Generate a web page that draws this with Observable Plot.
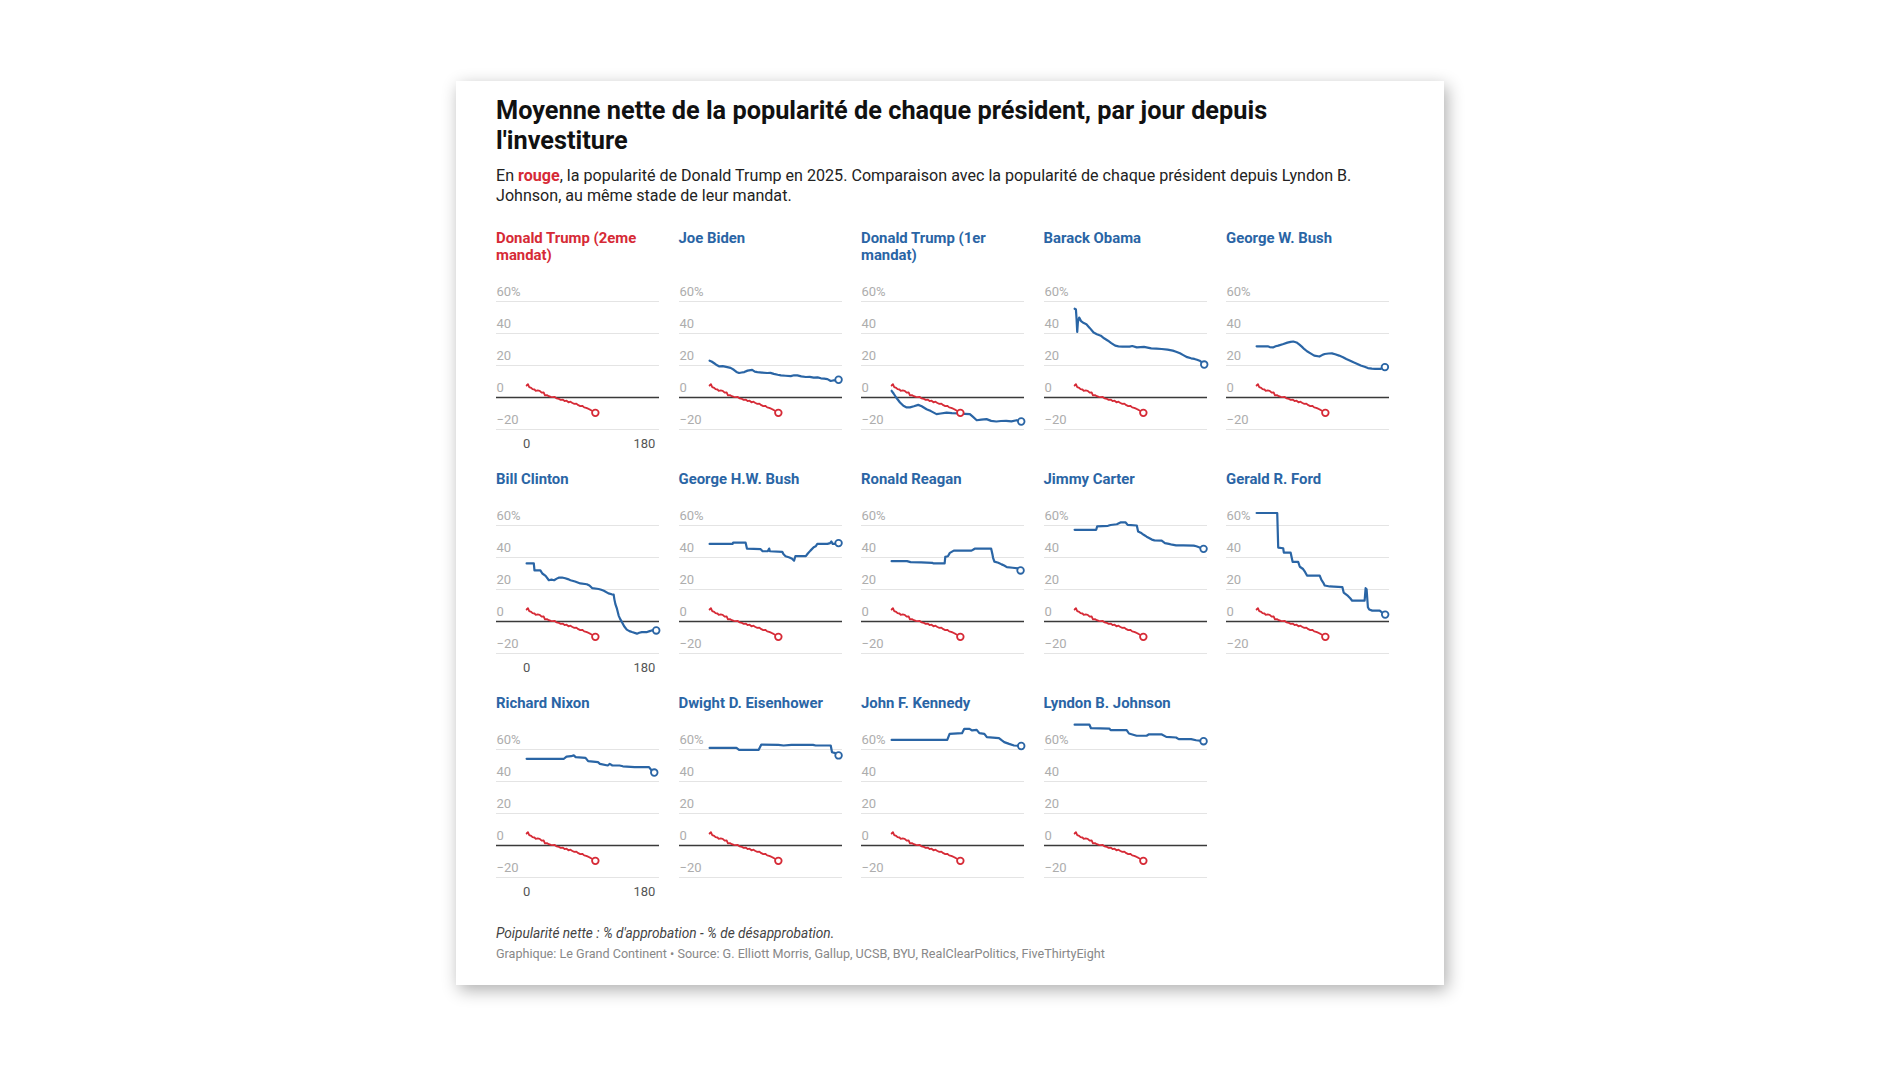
<!DOCTYPE html>
<html lang="fr">
<head>
<meta charset="utf-8">
<script src="https://cdn.jsdelivr.net/npm/d3@7"></script>
<script src="https://cdn.jsdelivr.net/npm/@observablehq/plot@0.6"></script>
<style>
  html, body { margin: 0; padding: 0; background: #fff; }
  body { width: 1896px; height: 1066px; position: relative; font-family: Roboto, "Noto Sans", sans-serif; }
  .card {
    position: absolute; left: 456px; top: 81px; width: 988px; height: 904px;
    background: #fff; box-sizing: border-box; padding: 15px 40px 0 40px;
    box-shadow: 3px 5px 16px rgba(0,0,0,0.32);
  }
  h1 { margin: 0; font-size: 25.3px; line-height: 30px; font-weight: 700; color: #111; width: 850px; }
  .sub { margin-top: 10px; font-size: 16.1px; line-height: 19.5px; color: #222; width: 893px; }
  .sub .red { color: #d62a36; font-weight: 700; }
  .grid { margin-top: 25px; display: grid; grid-template-columns: repeat(5, 163px); column-gap: 19.5px; }
  .ptitle { font-size: 14.9px; line-height: 17px; font-weight: 700; color: #2a65a5; padding-bottom: 5px; }
  .ptitle.hl { color: #d62a36; }
  .pchart { padding-bottom: 18px; }
  .pchart.last { padding-bottom: 0; }
  .pchart svg { display: block; overflow: visible; }
  .note { margin-top: 24px; font-size: 13.7px; line-height: 16px; font-style: italic; color: #444; }
  .source { margin-top: 5px; font-size: 12.6px; line-height: 16px; color: #888; }
</style>
</head>
<body>
<div class="card">
  <h1>Moyenne nette de la popularité de chaque président, par jour depuis l'investiture</h1>
  <div class="sub">En <span class="red">rouge</span>, la popularité de Donald Trump en 2025. Comparaison avec la popularité de chaque président depuis Lyndon B. Johnson, au même stade de leur mandat.</div>
  <div class="grid" id="grid"></div>
  <div class="note">Poipularité nette : % d'approbation - % de désapprobation.</div>
  <div class="source">Graphique: Le Grand Continent • Source: G. Elliott Morris, Gallup, UCSB, BYU, RealClearPolitics, FiveThirtyEight</div>
</div>
<script>
// Net approval (approve − disapprove), [day since inauguration, value]
const trump2 = [[0,7.5],[2,8.3],[4,6.5],[7,6],[9,5.2],[12,5],[14,4.2],[17,4.4],[20,4.2],[23,3],[26,3.2],[28,1.3],[31,1.5],[34,0.8],[37,0.4],[40,0.2],[43,0.3],[46,-0.6],[49,-0.8],[52,-1.5],[55,-1.3],[58,-2.2],[61,-2],[64,-3],[67,-2.6],[70,-3.4],[73,-4],[76,-3.8],[79,-4.8],[82,-5.4],[85,-5.2],[88,-6.2],[91,-6.5],[94,-7],[97,-7.6],[100,-8.3],[103,-9],[105,-9.6]];
const biden = [[0,23],[3,22.5],[7,21.4],[10,20.5],[15,19.4],[20,19.6],[27,19],[32,18.5],[37,17.3],[41,16],[45,15.3],[49,15.6],[53,15.9],[58,16.8],[65,17.3],[69,16.2],[73,15.9],[80,15.6],[88,15.3],[93,15.4],[98,14.8],[104,14.2],[109,13.8],[116,13.6],[124,13.4],[129,13.9],[134,13.8],[140,13.2],[147,12.8],[153,12.9],[159,12.4],[165,12.6],[170,12],[175,11.8],[180,11.5],[185,10.3],[190,10.8],[194,10.4],[197,11.1]];
const trump1 = [[0,4.2],[3,2.5],[7,0],[12.8,-3.1],[18,-5.2],[23,-6.2],[28,-6.2],[34,-5.5],[40.7,-4.6],[46,-5.5],[53.4,-7.3],[60,-8.5],[68.6,-10.4],[75,-10],[84,-9.4],[92,-9.8],[104,-10],[112,-10.2],[119.5,-10.4],[124,-12],[130,-14.2],[137,-13.8],[145,-13.5],[152,-14.6],[160,-15],[167,-14.7],[175,-14.6],[183,-14.9],[191,-14.2],[198,-15]];
const obama = [[0,55.5],[2,55],[3,49],[4,41],[5,47],[7,50],[9.8,47.8],[14,46.5],[18,45.8],[23,43.5],[29,40.6],[34,39.5],[40,38.6],[45,37],[51,35.5],[56,34],[62,32.4],[67,32],[73,31.8],[84,31.8],[88,32.2],[95,31.3],[106,31.6],[117,30.7],[125,30.5],[133,30.3],[142,29.9],[150,29.3],[155,28.6],[161,27.6],[166,26.5],[172,25.2],[178,24.5],[183,24.1],[187,23.6],[191,23],[195,21.8],[198,20.6]];
const bushW = [[0,32],[17,32],[20,31.5],[25,31.3],[29,32],[33,32.4],[41,33.4],[47,34.3],[52,34.8],[56,35],[61,34.4],[65,33.2],[69,31.8],[73,30.2],[77,28.9],[83,27.4],[88,26.2],[96,25.6],[100,26.5],[104,27.2],[110,27.5],[115,27.6],[120,27],[126,26.2],[132,25.2],[137,24.1],[143,23],[148,22],[154,21],[159,20],[165,19.2],[170,18.4],[176,18],[181,17.9],[189,17.9],[193,18.4],[196,19]];
const clinton = [[0,36.3],[11,36.3],[12,32],[21,32],[24,30],[29,28.5],[34,25.8],[38,26.2],[42,25.8],[46,26.8],[49,27.4],[54,27.5],[59,27],[63,26.5],[67,25.8],[74,25],[78,24.4],[82,23.8],[92,23.3],[96,22.5],[100,20.9],[110,20.3],[114,19.8],[118,19.2],[125,17.6],[130,17],[133,16.8],[134,14],[135.5,11],[138,8],[140.6,3.7],[143,1.5],[145.7,-0.4],[149,-3],[153,-5.1],[157,-6],[161,-6.6],[168.5,-7.6],[172,-7],[176,-6.6],[184,-6.6],[188,-6],[191,-5.6],[198,-5.6]];
const bushHW = [[0,48.5],[35,48.5],[36,49.3],[55,49.3],[57,45.6],[78,45.2],[81,43.9],[89,44],[91,45.6],[92,43.9],[111,43.5],[113,42],[116,40.8],[122,40],[126,39.2],[129,38],[131,40.8],[147,40.8],[150,42.5],[154,44.3],[159,46.4],[162,47],[164.5,48.5],[180,48.5],[184,49],[186,50],[188,48.5],[191,48.5],[197,49]];
const reagan = [[0,37.7],[23.5,37.7],[29,37.1],[45,37],[62,36.7],[64,36.3],[81,36.3],[82,40.4],[86,40.8],[89,42.9],[95,44.3],[122,44.3],[125,45],[127,45.6],[152,45.6],[154,42],[155,39.8],[157,37.4],[163,36.7],[168,35.7],[172,35],[176,34],[185,33.6],[193,33.2],[195,32.3],[197,31.9]];
const carter = [[0,57.3],[33,57.3],[34.4,59.4],[51,59.8],[55,60.3],[64.5,60.8],[70,61.9],[78,61.9],[81,60.4],[95,60],[97,56.3],[101,55.5],[105.5,54.2],[110,53],[113.7,52.2],[118,51.2],[122,50.7],[133,50.5],[138,49],[144,48.5],[149,48],[155,47.6],[166,47.6],[182,47.4],[186,47],[190,46.4],[197,45.4]];
const ford = [[0,67.8],[31.5,67.8],[33,46.2],[40.6,45.8],[41.6,43],[52,43],[55,37.3],[63.5,37.3],[66,34.2],[71,32.8],[74,31],[77,28.7],[96.4,28.7],[99,26],[101.5,24.5],[104,22.5],[111.7,21.9],[131,21.5],[133,18.1],[139.6,16],[143,14.5],[146,13],[165,13],[166.5,20.8],[168,20.2],[170,8.9],[172,7.5],[176.6,6.8],[188,6.8],[192,5.5],[196.4,4.3]];
const nixon = [[0,54.2],[57,54.2],[61,55.6],[68,55.8],[72,56.3],[75,55.2],[90,54.8],[94,52.7],[109,52.1],[112,51],[124,50],[127,51],[131,50],[142,50],[147,49.5],[165,49],[187,49],[191,46.9],[195,45.6]];
const eisenhower = [[0,61],[41,61],[45,59.8],[75,59.8],[79,63.1],[105,62.9],[113,62.5],[125,62.9],[158,62.9],[162,62.5],[185,62.5],[187,58.3],[192,57.7],[197,56.3]];
const kennedy = [[0,66],[85,66],[88.6,69.8],[107.6,70.2],[111,72.9],[119,72.9],[123,71.9],[130,72.3],[134,70.2],[141.7,69.8],[145.5,67.7],[164,67.1],[168,65.8],[172,64.6],[179.5,63.5],[187,62.5],[198,62.2]];
const johnson = [[0,75.5],[22.7,75.5],[25,73.3],[53,73.1],[55,72.1],[79.5,72.1],[83,70],[94.7,68.6],[110,68.6],[113.6,69.5],[132.6,69.5],[140,67.9],[155,67.5],[159,66.5],[178,66.5],[185.6,65.8],[197,65.2]];

const presidents = ["Donald Trump (2eme mandat)", "Joe Biden", "Donald Trump (1er mandat)", "Barack Obama", "George W. Bush",
  "Bill Clinton", "George H.W. Bush", "Ronald Reagan", "Jimmy Carter", "Gerald R. Ford",
  "Richard Nixon", "Dwight D. Eisenhower", "John F. Kennedy", "Lyndon B. Johnson"];
const series = [null, biden, trump1, obama, bushW, clinton, bushHW, reagan, carter, ford, nixon, eisenhower, kennedy, johnson];

const yTicks = [-20, 0, 20, 40, 60];
const xTicks = [0, 180];

const BLUE = "#2a65a5";
const RED = "#d62a36";
const COLS = 5;

const fmtY = d => d === 60 ? "60%" : (d < 0 ? "\u2212" + Math.abs(d) : String(d));

function panel(data, showX) {
  const marks = [
    Plot.gridY(yTicks.filter(d => d !== 0), {stroke: "#e4e4e4", strokeOpacity: 1, strokeWidth: 1}),
    Plot.ruleY([0], {stroke: "#3a3a3a", strokeWidth: 1.3}),
    Plot.text(yTicks, {y: d => d, text: fmtY, frameAnchor: "left", textAnchor: "start", dy: -10, fill: "#adadad", fontSize: 13})
  ];
  if (data) {
    marks.push(Plot.line(data, {x: d => d[0], y: d => d[1], stroke: BLUE, strokeWidth: 2.2, strokeLinejoin: "round"}));
    marks.push(Plot.dot([data[data.length - 1]], {x: d => d[0], y: d => d[1], r: 3.3, fill: "white", stroke: BLUE, strokeWidth: 1.8}));
  }
  marks.push(Plot.line(trump2, {x: d => d[0], y: d => d[1], stroke: RED, strokeWidth: 1.8, strokeLinejoin: "round"}));
  marks.push(Plot.dot([trump2[trump2.length - 1]], {x: d => d[0], y: d => d[1], r: 3.3, fill: "white", stroke: RED, strokeWidth: 1.8}));
  if (showX) marks.push(Plot.axisX(xTicks, {tickSize: 0, tickPadding: 9, fontSize: 13, fill: "#555", label: null}));
  return Plot.plot({
    width: 163, height: 184,
    marginTop: 0, marginBottom: 24, marginLeft: 0, marginRight: 0,
    x: {domain: [-46, 203], axis: showX ? undefined : null},
    y: {domain: [-20, 80], axis: null},
    style: {fontFamily: "Roboto, sans-serif", fontSize: "13px", background: "transparent", overflow: "visible"},
    marks
  });
}

const grid = document.getElementById("grid");
const nRows = Math.ceil(presidents.length / COLS);
for (let r = 0; r < nRows; r++) {
  const idx = d3.range(r * COLS, Math.min((r + 1) * COLS, presidents.length));
  for (const i of idx) {
    const t = document.createElement("div");
    t.className = "ptitle" + (i === 0 ? " hl" : "");
    t.style.gridRow = String(2 * r + 1);
    t.style.gridColumn = String(i - r * COLS + 1);
    t.textContent = presidents[i];
    grid.appendChild(t);
  }
  for (const i of idx) {
    const c = document.createElement("div");
    c.className = "pchart" + (r === nRows - 1 ? " last" : "");
    c.style.gridRow = String(2 * r + 2);
    c.style.gridColumn = String(i - r * COLS + 1);
    c.appendChild(panel(series[i], i % COLS === 0));
    grid.appendChild(c);
  }
}
</script>
</body>
</html>
